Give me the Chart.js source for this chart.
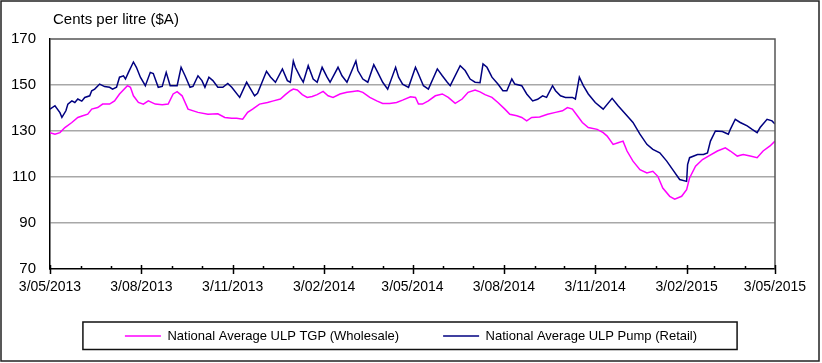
<!DOCTYPE html>
<html>
<head>
<meta charset="utf-8">
<script src="https://cdn.jsdelivr.net/npm/chart.js@4.4.1/dist/chart.umd.min.js"></script>
<style>
  html, body { margin: 0; padding: 0; background: #fff; }
  #wrap { position: relative; width: 822px; height: 363px; }
</style>
</head>
<body>
<div id="wrap"><canvas id="graph"></canvas></div>
<script>
// x values are days counted from 3/05/2013
var tgpDays = [0, 5, 10, 15, 22, 28, 33, 38, 42, 48, 53, 60, 65, 70, 78, 81, 84, 89, 94, 99,
  106, 113, 119, 124, 128, 133, 139, 149, 159, 169, 176, 183, 188, 194, 199, 204, 211, 219, 225, 232,
  237, 242, 245, 249, 254, 259, 264, 269, 275, 280, 285, 292, 299, 305, 310, 315, 322, 329, 335, 342,
  349, 355, 363, 368, 371, 375, 381, 388, 395, 401, 408, 415, 421, 428, 433, 438, 445, 451, 458, 463,
  470, 475, 480, 485, 493, 501, 509, 516, 521, 526, 531, 536, 542, 551, 557, 561, 567, 572, 577, 581,
  587, 594, 601, 607, 612, 617, 624, 629, 636, 641, 644, 650, 657, 663, 672, 680, 685, 692, 698, 705,
  712, 718, 725, 730];
var tgpValues = [129.3, 128.6, 129.3, 131.5, 133.7, 135.9, 136.6, 137.3, 139.5, 140.2, 141.7, 141.7, 143.1, 146.1, 149.7, 149, 145.3, 142.4, 141.7, 143.1,
  141.7, 141.4, 141.7, 146.1, 147.1, 145.3, 139.5, 138.1, 137.3, 137.5, 135.9, 135.5, 135.5, 135.1, 138.1, 139.5, 141.7, 142.4, 143.1, 143.9,
  145.8, 147.5, 148.2, 147.8, 145.8, 144.6, 145, 145.8, 147.2, 145.3, 144.6, 146.1, 146.8, 147.2, 147.5, 146.8, 144.6, 143.1, 142, 142,
  142.4, 143.4, 144.9, 144.6, 141.7, 141.7, 143.1, 145.3, 146.1, 144.6, 142, 143.9, 146.8, 147.8, 147, 145.8, 144.6, 142.4, 139.5, 137.3,
  136.6, 135.9, 134.4, 135.9, 136.1, 137.3, 138.1, 138.8, 140.2, 139.5, 136.6, 133.7, 131.5, 130.7, 129.3, 127.8, 124.2, 124.9, 125.6, 121.3,
  116.9, 113.2, 111.8, 112.5, 110.3, 105.2, 101.6, 100.4, 101.6, 104.5, 109.6, 114.7, 117.6, 119.1, 121.3, 122.7, 121.3, 119.1, 119.8, 119.1,
  118.4, 121.3, 123.5, 125.6];

var pumpDays = [0, 5, 10, 12, 16, 18, 22, 25, 28, 32, 35, 40, 42, 45, 50, 55, 60, 63, 67, 70,
  74, 76, 79, 84, 87, 91, 96, 101, 104, 109, 113, 117, 121, 128, 132, 136, 141, 144, 149, 153,
  156, 160, 164, 169, 174, 179, 183, 191, 198, 201, 206, 209, 218, 222, 227, 234, 239, 242, 245, 247,
  252, 255, 260, 265, 269, 274, 279, 282, 290, 294, 299, 308, 310, 315, 320, 326, 330, 335, 340, 348,
  351, 355, 361, 368, 371, 376, 381, 390, 395, 400, 403, 413, 418, 423, 428, 433, 436, 440, 445, 451,
  456, 460, 465, 468, 475, 480, 486, 491, 496, 500, 506, 509, 514, 519, 526, 529, 533, 537, 542, 549,
  557, 566, 572, 581, 587, 594, 601, 607, 614, 621, 627, 634, 641, 642, 644, 652, 658, 662, 665, 670,
  677, 683, 685, 690, 695, 702, 707, 712, 715, 722, 727, 730];
var pumpValues = [139.5, 141, 138, 135.9, 138.8, 141.7, 143.1, 142.4, 143.9, 143, 144.6, 145.3, 147.5, 148.2, 150.4, 149.3, 149, 148.2, 149, 153.4,
  154, 152.6, 155.5, 160, 157.7, 153.4, 149.7, 155.5, 155, 149, 149.4, 155.5, 149.7, 149.7, 157.7, 154, 149, 149.4, 154, 151.9,
  149, 153.4, 151.9, 149, 149, 150.7, 149, 144.6, 151.2, 149, 145.3, 146.4, 156, 153.5, 151.2, 157, 151.9, 151.2, 160.4, 157.7,
  153.4, 151.2, 158.4, 152.6, 151.2, 157.7, 153.4, 151.2, 157.7, 154, 151.2, 160.4, 156.3, 152.6, 151.2, 158.8, 155.5, 151.2, 148.2, 157.7,
  153.4, 150.4, 149, 157.7, 154.8, 149.7, 148.2, 157, 154, 151.2, 149.7, 158.4, 156.3, 152.6, 151.2, 151, 159.2, 157.7, 153.4, 150.4,
  147.5, 147.5, 152.6, 150.4, 149.7, 146.1, 143.1, 143.8, 145.3, 144.6, 149.7, 147.5, 145.3, 144.6, 144.6, 143.9, 153.4, 149.7, 146.1, 142.4,
  139.5, 144.2, 141, 136.6, 133.7, 128.6, 124.2, 122, 120.5, 116.9, 113.2, 108.9, 108.1, 115.4, 118.4, 119.8, 119.8, 120.5, 125.6, 130,
  129.8, 128.6, 130.7, 135.1, 133.7, 132.2, 130.7, 129.3, 131.5, 135.1, 134.4, 133];

var seriesNames = ['National Average ULP TGP (Wholesale)', 'National Average ULP Pump (Retail)'];

// axis ticks
var majorDays = [0, 92, 184, 276, 365, 457, 549, 641, 730];
var majorLabels = ['3/05/2013', '3/08/2013', '3/11/2013', '3/02/2014', '3/05/2014', '3/08/2014', '3/11/2014', '3/02/2015', '3/05/2015'];
var monthDays = [0, 31, 61, 92, 123, 153, 184, 214, 245, 276, 304, 335, 365, 396, 426, 457, 488, 518, 549, 579, 610, 641, 669, 700, 730];
var yMin = 70, yMax = 170, yStep = 20;
var unitTitle = 'Cents per litre ($A)';

var FONT = '"Liberation Sans", Arial, sans-serif';
Chart.defaults.font.family = FONT;
Chart.defaults.color = '#000';

function points(days, vals) {
  return days.map(function (d, i) { return {x: d, y: vals[i]}; });
}

// extra drawing: plot frame, month ticks, unit title, legend box, outer border
var framePlugin = {
  id: 'frame',
  afterDraw: function (chart) {
    var ctx = chart.ctx, a = chart.chartArea, xs = chart.scales.x;
    ctx.save();
    ctx.lineWidth = 1.5;
    ctx.strokeStyle = '#555';
    ctx.beginPath();
    ctx.moveTo(a.left, a.top);
    ctx.lineTo(a.right, a.top);
    ctx.lineTo(a.right, a.bottom);
    ctx.stroke();

    ctx.strokeStyle = '#000';
    monthDays.forEach(function (d) {
      var px = Math.round(xs.getPixelForValue(d)) + 0.5;
      var major = majorDays.indexOf(d) >= 0;
      ctx.beginPath();
      ctx.moveTo(px, major ? a.bottom - 4 : a.bottom - 3);
      ctx.lineTo(px, major ? a.bottom + 5 : a.bottom);
      ctx.stroke();
    });

    ctx.fillStyle = '#000';
    ctx.font = '15px ' + FONT;
    ctx.textAlign = 'left';
    ctx.textBaseline = 'middle';
    ctx.fillText(unitTitle, 53, 20);

    var hb = chart.legend.legendHitBoxes;
    if (hb && hb.length) {
      var cy = hb[0].top + hb[0].height / 2;
      var l = hb[0].left - 42, r = hb[hb.length - 1].left + hb[hb.length - 1].width + 40;
      ctx.strokeStyle = '#111';
      ctx.strokeRect(l, cy - 14, r - l, 27.5);
    }

    ctx.strokeStyle = '#222';
    ctx.strokeRect(1, 1, 818, 360);
    ctx.restore();
  }
};

var ctx = document.getElementById('graph');
new Chart(ctx, {
  type: 'line',
  data: {
    datasets: [{
      label: seriesNames[0],
      data: points(tgpDays, tgpValues),
      borderColor: '#FF00FF',
      backgroundColor: '#FF00FF',
      borderWidth: 1.5,
      pointRadius: 0,
      tension: 0
    }, {
      label: seriesNames[1],
      data: points(pumpDays, pumpValues),
      borderColor: '#000080',
      backgroundColor: '#000080',
      borderWidth: 1.5,
      pointRadius: 0,
      tension: 0
    }]
  },
  options: {
    responsive: true,
    maintainAspectRatio: false,
    animation: false,
    layout: { padding: { top: 39, right: 0, bottom: 10.5, left: 0 } },
    plugins: {
      tooltip: { enabled: false },
      legend: {
        position: 'bottom',
        labels: {
          usePointStyle: true,
          pointStyle: 'line',
          pointStyleWidth: 36,
          padding: 44,
          color: '#000',
          font: { size: 13 }
        }
      }
    },
    scales: {
      x: {
        type: 'linear',
        min: 0,
        max: 730,
        afterBuildTicks: function (scale) {
          scale.ticks = majorDays.map(function (d) { return {value: d}; });
        },
        afterFit: function (scale) {
          scale.height = 16.5;
          // labels hang below the short axis box, so don't clip them to it
          scale._computeLabelArea = function () { return undefined; };
        },
        grid: { display: false, drawTicks: false },
        border: { display: true, color: '#000', width: 1.5 },
        ticks: {
          autoSkip: false,
          maxRotation: 0,
          minRotation: 0,
          padding: 10,
          font: { size: 14 },
          callback: function (v) {
            var i = majorDays.indexOf(v);
            return i >= 0 ? majorLabels[i] : '';
          }
        }
      },
      y: {
        min: yMin,
        max: yMax,
        afterFit: function (scale) { scale.width = 50; },
        grid: {
          drawTicks: false,
          lineWidth: 1.5,
          color: function (c) {
            return (c.tick && (c.tick.value === yMax || c.tick.value === yMin)) ? 'rgba(0,0,0,0)' : '#a8a8a8';
          }
        },
        border: { display: true, color: '#000', width: 1.5 },
        ticks: { stepSize: yStep, padding: 14, font: { size: 15 } }
      },
      y2: {
        position: 'right',
        display: true,
        min: yMin,
        max: yMax,
        afterFit: function (scale) { scale.width = 47; },
        grid: { display: false, drawTicks: false },
        border: { display: false },
        ticks: { display: false }
      }
    }
  },
  plugins: [framePlugin]
});
</script>
</body>
</html>
